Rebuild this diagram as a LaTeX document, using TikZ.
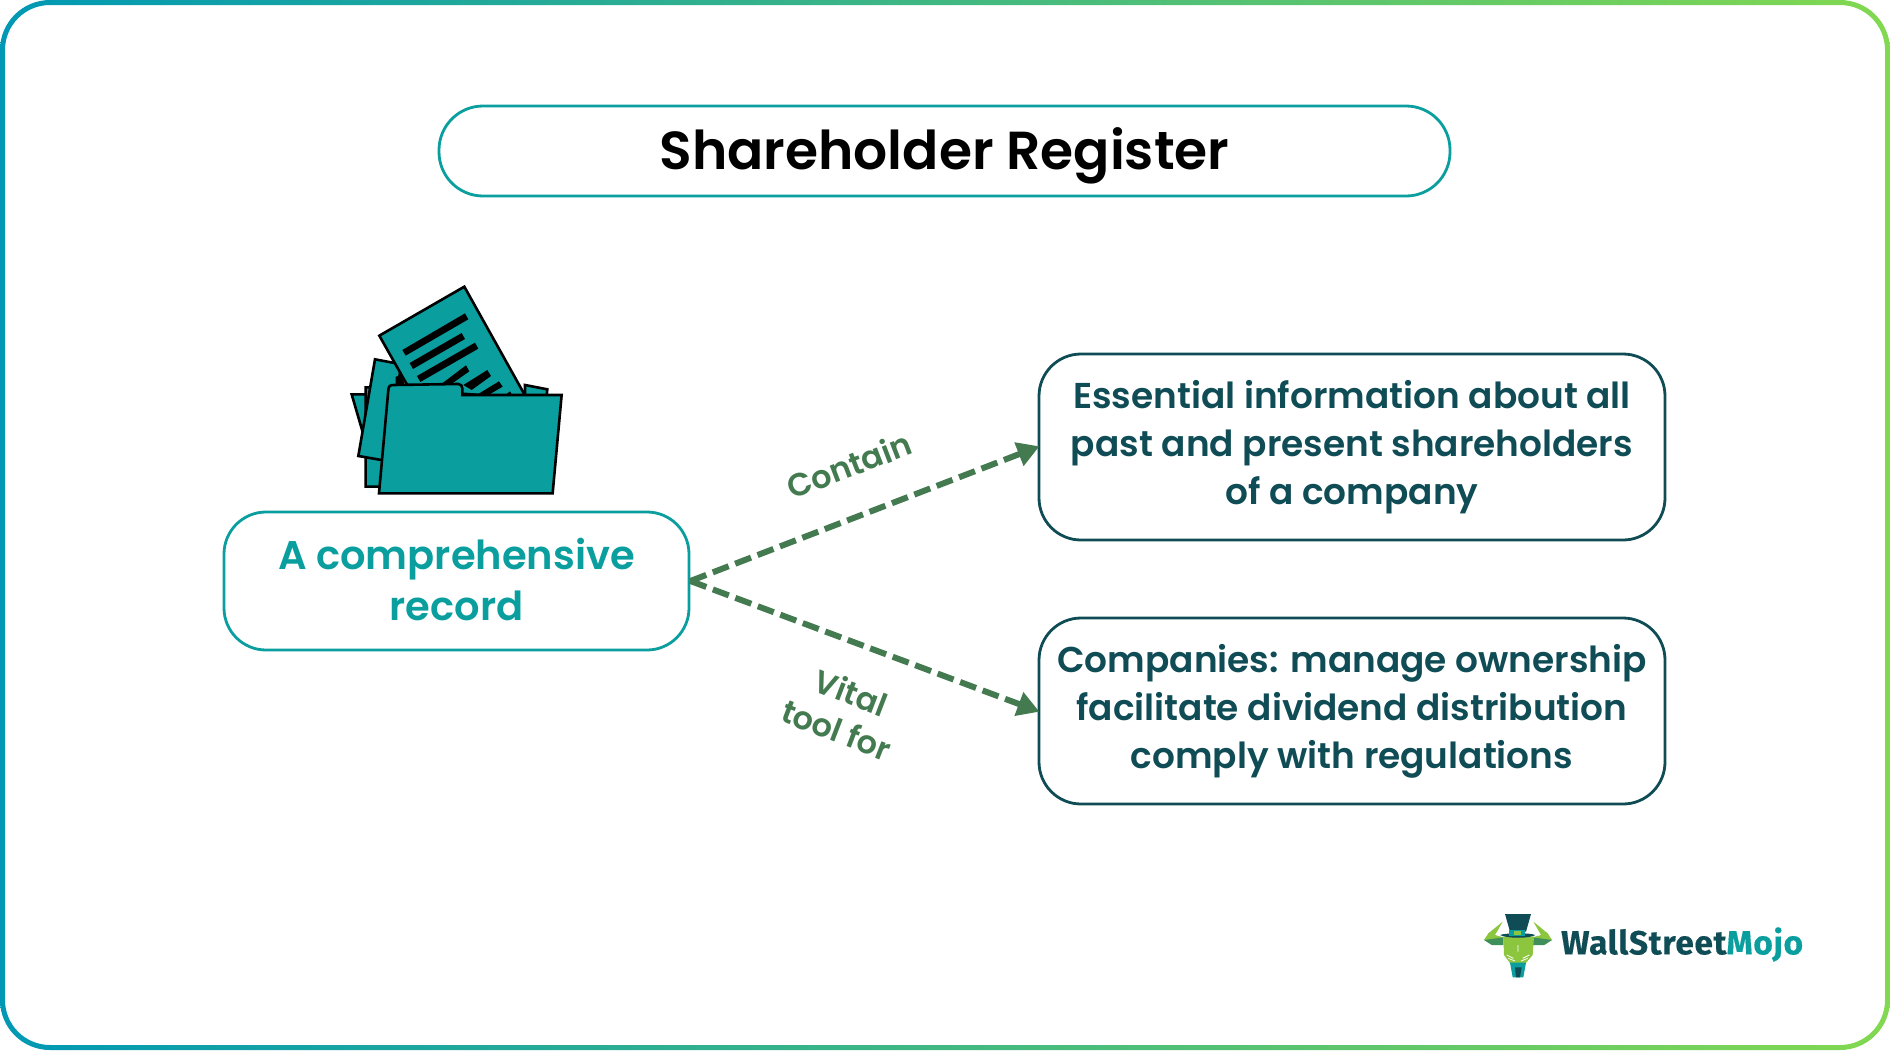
\documentclass[tikz,border=0pt]{standalone}
\usepackage{fontspec}
\setmainfont{Poppins}
\newfontfamily\psemi{Poppins SemiBold}
\newfontfamily\logofont{Fira Sans}[UprightFont=* Bold,LetterSpace=2,FakeBold=0.4]
\usetikzlibrary{arrows.meta}
\definecolor{tealc}{HTML}{0A9E9E}
\definecolor{darkt}{HTML}{0F4C55}
\definecolor{arrowg}{HTML}{437A4F}
\definecolor{borderl}{HTML}{0098B4}
\definecolor{borderr}{HTML}{82D850}
\definecolor{lgreen}{HTML}{8CC63F}
\definecolor{lgreend}{HTML}{3F8F5A}
\tikzset{
  pic/.style={draw=black,fill=tealc,line width=2.6pt,line join=miter},
  bar/.style={draw=none,fill=black},
  titlebox/.style={draw=tealc,line width=2.8pt,rounded corners=44pt,minimum width=1011pt,minimum height=90pt,inner sep=0pt,text height=37pt,text depth=0pt,font=\psemi\fontsize{53.5}{60}\selectfont,text=black},
  leftbox/.style={draw=tealc,line width=2.8pt,rounded corners=42pt,minimum width=465pt,minimum height=138pt,inner sep=0pt,align=center,font=\psemi\fontsize{40}{51}\selectfont,text=tealc},
  rightbox/.style={draw=darkt,line width=2.8pt,rounded corners=42pt,minimum width=626pt,minimum height=186pt,inner sep=0pt,align=center,font=\psemi\fontsize{35.9}{48}\selectfont,text=darkt},
  conn/.style={draw=arrowg,line width=6pt,dash pattern=on 17pt off 7pt,shorten >=-2pt,-{Triangle[length=22pt,width=24pt,fill=arrowg]}},
  lab/.style={text=arrowg,align=center,font=\psemi\fontsize{32}{38}\selectfont,inner sep=0pt},
}
\begin{document}
\begin{tikzpicture}[x=1pt,y=-1pt]
\useasboundingbox (0,0) rectangle (1890,1050);
% frame
\shade[left color=borderl,right color=borderr,middle color=borderl!50!borderr,even odd rule]
  [rounded corners=50pt] (0,0) rectangle (1890,1050)
  [rounded corners=45pt] (5,5) rectangle (1885,1045);
% boxes
\node[titlebox] (title) at (944.5,151) {Shareholder Register};
\node[leftbox] (left) at (456.5,581) {A comprehensive\\record\rule[-4pt]{0pt}{4pt}};
\node[rightbox] (rt) at (1352,447) {Essential information about all\\past and present shareholders\\of a company};
\node[rightbox] (rb) at (1352,711) {Companies: manage ownership\\facilitate dividend distribution\\comply with regulations};
% connectors
\draw[conn] (left.east) -- (rt.west);
\draw[conn] (left.east) -- (rb.west);
\node[lab,rotate=21] (l1) at (849,465) {Contain};
\node[lab,rotate=-21,font=\psemi\fontsize{32}{40}\selectfont] (l2) at (844,711) {Vital\\tool for};
% folder icon
\begin{scope}[shift={(330,270)},x=0.3333pt,y=-0.3333pt]
\filldraw[pic] (65,373) -- (105,510) -- (200,510) -- (200,373) -- cycle;
\filldraw[pic] (107,352) -- (107,650) -- (170,650) -- (200,352) -- cycle;
\filldraw[pic] (585,345) -- (652,358) -- (650,378) -- (585,378) -- cycle;
\filldraw[pic] (135,268) -- (85,558) -- (160,571) -- (215,283) -- cycle;
\filldraw[pic] (403,50) -- (148,197) -- (240,360) -- (590,385) -- cycle;
\path[bar] (217,240) -- (405,130) -- (415,148) -- (227,257) -- cycle;
\path[bar] (239,279) -- (395,189) -- (405,207) -- (249,297) -- cycle;
\path[bar] (261,318) -- (435,218) -- (445,236) -- (271,336) -- cycle;
\path[bar] (330,345) -- (408,286) -- (418,304) -- (360,345) -- cycle;
\path[bar] (400,345) -- (472,300) -- (483,318) -- (425,360) -- cycle;
\path[bar] (440,375) -- (507,334) -- (518,350) -- (470,378) -- cycle;
\path[bar] (197,320) -- (215,316) -- (225,345) -- (197,345) -- cycle;
\path[bar] (530,372) -- (540,364) -- (548,378) -- cycle;
\filldraw[pic] (147,670) -- (175,360) .. controls (176,348) and (180,345) .. (192,345) -- (385,342) .. controls (392,342) and (397,348) .. (397,355) -- (397,375) -- (695,375) -- (668,670) -- cycle;
\end{scope}
% logo
\begin{scope}[shift={(1460,890)},x=0.3333pt,y=-0.3333pt]
\fill[lgreen] (128,95) -- (85,130) -- (72,150) -- (130,165) -- (130,142) -- (105,135) -- cycle;
\fill[lgreen] (220,95) -- (263,130) -- (276,150) -- (218,165) -- (218,142) -- (243,135) -- cycle;
\fill[lgreend] (72,150) -- (130,142) -- (130,165) -- (95,165) -- cycle;
\fill[lgreend] (276,150) -- (218,142) -- (218,165) -- (253,165) -- cycle;
\fill[lgreen] (130,140) -- (222,140) -- (218,195) -- (195,222) -- (152,222) -- (132,195) -- cycle;
\fill[tealc] (150,218) -- (198,218) -- (190,262) -- (158,262) -- cycle;
\fill[darkt] (165,232) -- (185,232) -- (180,262) -- (168,262) -- cycle;
\fill[darkt] (135,72) -- (213,72) -- (198,125) -- (150,125) -- cycle;
\fill[darkt] (120,135) .. controls (140,128) and (210,128) .. (226,135) .. controls (210,146) and (140,146) .. (120,135) -- cycle;
\fill[tealc] (147,121) rectangle (196,137);
\fill[lgreen] (163,123) rectangle (182,135);
\draw[white,line width=0.8pt] (140,195) -- (160,205) (208,195) -- (188,205) (145,205) -- (165,213) (203,205) -- (183,213) (174,165) -- (174,185);
\end{scope}
\node[inner sep=0pt,anchor=west,font=\logofont\fontsize{33.4}{36}\selectfont] (logo) at (1561,944.5) {\textcolor{darkt}{WallStreet}\textcolor{tealc}{Mojo}};
\end{tikzpicture}
\end{document}
